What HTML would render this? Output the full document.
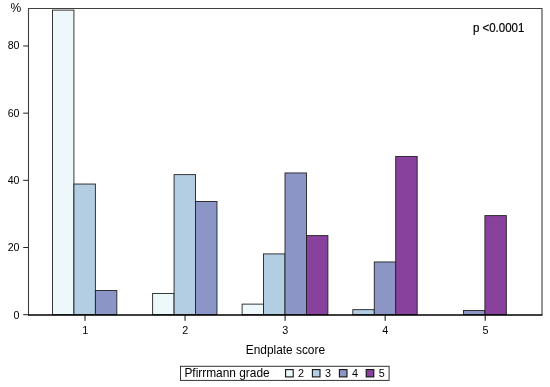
<!DOCTYPE html>
<html><head><meta charset="utf-8"><title>Endplate score</title>
<style>
html,body{margin:0;padding:0;background:#fff;}
svg{display:block;font-family:"Liberation Sans",Arial,sans-serif;fill:#000;}
</style></head><body>
<svg width="550" height="387" viewBox="0 0 550 387">
<rect x="0" y="0" width="550" height="387" fill="#ffffff"/>
<rect x="52.48" y="10.11" width="21.45" height="304.59" fill="#edf8fb" stroke="#222" stroke-width="0.9"/>
<rect x="73.93" y="184.03" width="21.45" height="130.67" fill="#b3cde3" stroke="#222" stroke-width="0.9"/>
<rect x="95.38" y="290.52" width="21.45" height="24.18" fill="#8c96c6" stroke="#222" stroke-width="0.9"/>
<rect x="152.62" y="293.54" width="21.45" height="21.16" fill="#edf8fb" stroke="#222" stroke-width="0.9"/>
<rect x="174.07" y="174.63" width="21.45" height="140.07" fill="#b3cde3" stroke="#222" stroke-width="0.9"/>
<rect x="195.53" y="201.50" width="21.45" height="113.20" fill="#8c96c6" stroke="#222" stroke-width="0.9"/>
<rect x="242.10" y="304.12" width="21.45" height="10.58" fill="#edf8fb" stroke="#222" stroke-width="0.9"/>
<rect x="263.55" y="253.90" width="21.45" height="60.80" fill="#b3cde3" stroke="#222" stroke-width="0.9"/>
<rect x="285.00" y="172.95" width="21.45" height="141.75" fill="#8c96c6" stroke="#222" stroke-width="0.9"/>
<rect x="306.45" y="235.60" width="21.45" height="79.10" fill="#88419d" stroke="#222" stroke-width="0.9"/>
<rect x="352.82" y="309.66" width="21.45" height="5.04" fill="#b3cde3" stroke="#222" stroke-width="0.9"/>
<rect x="374.27" y="261.96" width="21.45" height="52.74" fill="#8c96c6" stroke="#222" stroke-width="0.9"/>
<rect x="395.72" y="156.49" width="21.45" height="158.21" fill="#88419d" stroke="#222" stroke-width="0.9"/>
<rect x="463.45" y="310.50" width="21.45" height="4.20" fill="#8c96c6" stroke="#222" stroke-width="0.9"/>
<rect x="484.90" y="215.61" width="21.45" height="99.09" fill="#88419d" stroke="#222" stroke-width="0.9"/>
<path d="M28.5 314.7 V8.5 H542.0 V314.7" fill="none" stroke="#404040" stroke-width="1.1"/>
<line x1="28" y1="315.0" x2="542.5" y2="315.0" stroke="#000" stroke-width="1.6"/>
<line x1="23.2" y1="314.70" x2="28.5" y2="314.70" stroke="#222" stroke-width="1"/>
<text x="19.5" y="318.60" font-size="10.67" text-anchor="end">0</text>
<line x1="23.2" y1="247.52" x2="28.5" y2="247.52" stroke="#222" stroke-width="1"/>
<text x="19.5" y="251.02" font-size="10.67" text-anchor="end">20</text>
<line x1="23.2" y1="180.34" x2="28.5" y2="180.34" stroke="#222" stroke-width="1"/>
<text x="19.5" y="183.84" font-size="10.67" text-anchor="end">40</text>
<line x1="23.2" y1="113.16" x2="28.5" y2="113.16" stroke="#222" stroke-width="1"/>
<text x="19.5" y="116.66" font-size="10.67" text-anchor="end">60</text>
<line x1="23.2" y1="45.98" x2="28.5" y2="45.98" stroke="#222" stroke-width="1"/>
<text x="19.5" y="49.48" font-size="10.67" text-anchor="end">80</text>
<text x="15.8" y="12" font-size="12" text-anchor="middle">%</text>
<line x1="85.0" y1="314.7" x2="85.0" y2="320.8" stroke="#111" stroke-width="1"/>
<text x="85.2" y="334.2" font-size="10.8" text-anchor="middle">1</text>
<line x1="185.05" y1="314.7" x2="185.05" y2="320.8" stroke="#111" stroke-width="1"/>
<text x="185.25" y="334.2" font-size="10.8" text-anchor="middle">2</text>
<line x1="285.1" y1="314.7" x2="285.1" y2="320.8" stroke="#111" stroke-width="1"/>
<text x="285.3" y="334.2" font-size="10.8" text-anchor="middle">3</text>
<line x1="385.15" y1="314.7" x2="385.15" y2="320.8" stroke="#111" stroke-width="1"/>
<text x="385.34999999999997" y="334.2" font-size="10.8" text-anchor="middle">4</text>
<line x1="485.2" y1="314.7" x2="485.2" y2="320.8" stroke="#111" stroke-width="1"/>
<text x="485.4" y="334.2" font-size="10.8" text-anchor="middle">5</text>
<text x="285.4" y="354" font-size="11.9" text-anchor="middle">Endplate score</text>
<text x="472.9" y="32.35" font-size="12" textLength="51.4" lengthAdjust="spacingAndGlyphs" stroke="#000" stroke-width="0.2">p &lt;0.0001</text>
<rect x="180.5" y="366.3" width="208.6" height="14.1" fill="#fff" stroke="#333" stroke-width="1"/>
<text x="184.4" y="377.4" font-size="11.9">Pfirrmann grade</text>
<rect x="285.6" y="369.6" width="7.6" height="7.3" fill="#edf8fb" stroke="#111" stroke-width="1.1"/>
<text x="298.1" y="377.2" font-size="10.8">2</text>
<rect x="312.40000000000003" y="369.6" width="7.6" height="7.3" fill="#b3cde3" stroke="#111" stroke-width="1.1"/>
<text x="324.90000000000003" y="377.2" font-size="10.8">3</text>
<rect x="339.40000000000003" y="369.6" width="7.6" height="7.3" fill="#8c96c6" stroke="#111" stroke-width="1.1"/>
<text x="351.90000000000003" y="377.2" font-size="10.8">4</text>
<rect x="366.2" y="369.6" width="7.6" height="7.3" fill="#88419d" stroke="#111" stroke-width="1.1"/>
<text x="378.7" y="377.2" font-size="10.8">5</text>
</svg>
</body></html>
